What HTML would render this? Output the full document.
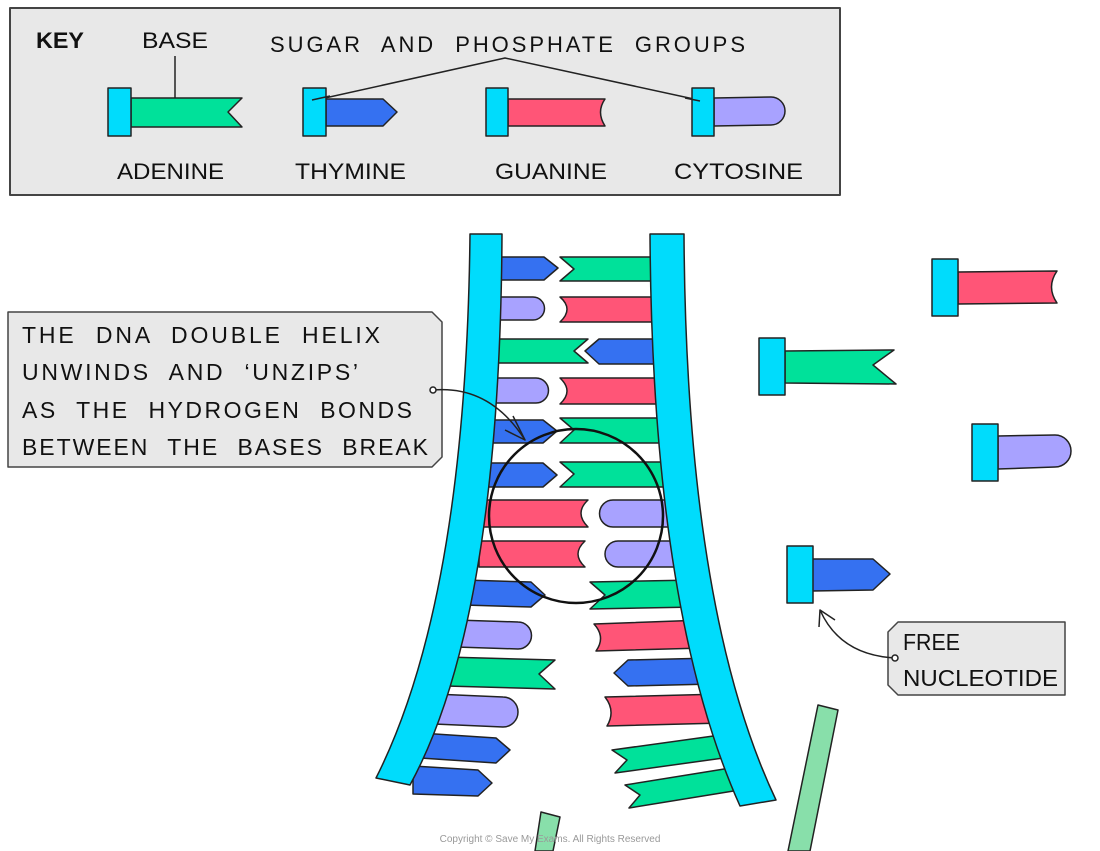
<!DOCTYPE html>
<html><head><meta charset="utf-8"><style>
html,body{margin:0;padding:0;background:#fff;}
svg{display:block;font-family:"Liberation Sans",sans-serif;}
</style></head><body>
<svg width="1100" height="851" viewBox="0 0 1100 851" xmlns="http://www.w3.org/2000/svg">
<g stroke="#222" stroke-width="1.5" stroke-linejoin="round">
<rect x="10" y="8" width="830" height="187" fill="#e8e8e8" stroke="#444" stroke-width="2"/>
<line x1="175" y1="56" x2="175" y2="98" fill="none"/>
<polyline points="316,100 505,58 703,101" fill="none"/>
<path d="M131 98 L242 98 L228 112 L242 127 L131 127Z" fill="#00e19a"/>
<rect x="108" y="88" width="23" height="48" fill="#00dcfc"/>
<path d="M326 99 L383 99 L397 112 L383 126 L326 126Z" fill="#3571f1"/>
<rect x="303" y="88" width="23" height="48" fill="#00dcfc"/>
<path d="M508 99 L605 99 Q596 112 605 126 L508 126Z" fill="#ff5577"/>
<rect x="486" y="88" width="22" height="48" fill="#00dcfc"/>
<path d="M714 98 L771 97 A14 14 0 0 1 771 125 L714 126Z" fill="#a8a2ff"/>
<rect x="692" y="88" width="22" height="48" fill="#00dcfc"/>
<polyline points="312,100 330,96" fill="none"/>
<polyline points="700,101 685,98" fill="none"/>
</g>
<g font-size="22" fill="#111">
<text x="36" y="48" font-weight="bold" textLength="48" lengthAdjust="spacingAndGlyphs">KEY</text>
<text x="142" y="48" textLength="66" lengthAdjust="spacingAndGlyphs">BASE</text>
<text x="270" y="52" textLength="475" lengthAdjust="spacing" word-spacing="10">SUGAR AND PHOSPHATE GROUPS</text>
<text x="117" y="179" textLength="107" lengthAdjust="spacingAndGlyphs">ADENINE</text>
<text x="295" y="179" textLength="111" lengthAdjust="spacingAndGlyphs">THYMINE</text>
<text x="495" y="179" textLength="112" lengthAdjust="spacingAndGlyphs">GUANINE</text>
<text x="674" y="179" textLength="129" lengthAdjust="spacingAndGlyphs">CYTOSINE</text>
</g>

<g stroke="#222" stroke-width="1.5" stroke-linejoin="round">
<path d="M490 257 L544 257 L558 268 L544 280 L490 280Z" fill="#3571f1"/>
<path d="M490 297 L533 297 A11.5 11.5 0 0 1 533 320 L490 320Z" fill="#a8a2ff"/>
<path d="M489 339 L588 339 L574 351 L588 363 L489 363Z" fill="#00e19a"/>
<path d="M488 378 L536 378 A12.5 12.5 0 0 1 536 403 L488 403Z" fill="#a8a2ff"/>
<path d="M487 420 L543 420 L557 431 L543 443 L487 443Z" fill="#3571f1"/>
<path d="M485 463 L543 463 L557 475 L543 487 L485 487Z" fill="#3571f1"/>
<path d="M483 500 L588 500 Q574 513 588 527 L483 527Z" fill="#ff5577"/>
<path d="M479 541 L585 541 Q571 554 585 567 L479 567Z" fill="#ff5577"/>
<path d="M464 580 L531 582 L545 595 L531 607 L464 605Z" fill="#3571f1"/>
<path d="M456 620 L518 622 A13.5 13.5 0 0 1 518 649 L456 647Z" fill="#a8a2ff"/>
<path d="M446 657 L555 660 L539 674 L555 689 L446 686Z" fill="#00e19a"/>
<path d="M434 694 L503 697 A15 15 0 0 1 503 727 L434 724Z" fill="#a8a2ff"/>
<path d="M420 733 L496 738 L510 750 L496 763 L420 758Z" fill="#3571f1"/>
<path d="M413 766 L478 770 L492 783 L478 796 L413 794Z" fill="#3571f1"/>

<path d="M663 257 L560 257 L574 269 L560 281 L663 281Z" fill="#00e19a"/>
<path d="M664 297 L560 297 Q574 309 560 322 L664 322Z" fill="#ff5577"/>
<path d="M665 339 L599 339 L585 351 L599 364 L665 364Z" fill="#3571f1"/>
<path d="M667 378 L560 378 Q574 391 560 404 L667 404Z" fill="#ff5577"/>
<path d="M669 418 L560 418 L574 430 L560 443 L669 443Z" fill="#00e19a"/>
<path d="M672 462 L560 462 L574 474 L560 487 L672 487Z" fill="#00e19a"/>
<path d="M675 500 L613 500 A13.5 13.5 0 0 0 613 527 L675 527Z" fill="#a8a2ff"/>
<path d="M680 541 L618 541 A13 13 0 0 0 618 567 L680 567Z" fill="#a8a2ff"/>
<path d="M696 580 L590 582 L605 595 L590 609 L696 607Z" fill="#00e19a"/>
<path d="M704 620 L594 624 Q606 637 596 651 L704 648Z" fill="#ff5577"/>
<path d="M713 658 L628 660 L614 673 L628 686 L713 684Z" fill="#3571f1"/>
<path d="M723 694 L605 697 Q616 711 607 726 L723 723Z" fill="#ff5577"/>
<path d="M735 733 L612 750 L627 760 L615 773 L738 756Z" fill="#00e19a"/>
<path d="M749 765 L625 785 L640 795 L629 808 L752 788Z" fill="#00e19a"/>

<path d="M470 234 L502 234 Q500 620 410 785 L376 778 Q466 600 470 234Z" fill="#00dcfc"/>
<path d="M650 234 L684 234 Q686 610 776 800 L740 806 Q652 610 650 234Z" fill="#00dcfc"/>

<circle cx="576" cy="516" r="87" fill="none" stroke="#111" stroke-width="2.5"/>

<path d="M958 272 L1057 271 Q1046 287 1057 303 L958 304Z" fill="#ff5577"/>
<rect x="932" y="259" width="26" height="57" fill="#00dcfc"/>
<path d="M785 351 L894 350 L873 365 L896 384 L785 383Z" fill="#00e19a"/>
<rect x="759" y="338" width="26" height="57" fill="#00dcfc"/>
<path d="M998 436 L1055 435 A16 16 0 0 1 1055 467 L998 469Z" fill="#a8a2ff"/>
<rect x="972" y="424" width="26" height="57" fill="#00dcfc"/>
<path d="M812 559 L873 559 L890 574 L873 590 L812 591Z" fill="#3571f1"/>
<rect x="787" y="546" width="26" height="57" fill="#00dcfc"/>

<path d="M818 705 L838 710 L810 851 L788 851Z" fill="#88dfaa"/>
<path d="M541 812 L560 817 L553 851 L535 851Z" fill="#88dfaa"/>

<path d="M8 312 L432 312 L442 322 L442 457 L432 467 L8 467Z" fill="#e8e8e8" stroke="#444"/>
<path d="M898 622 L1065 622 L1065 695 L898 695 L888 685 L888 632Z" fill="#e8e8e8" stroke="#444"/>
<path d="M433 390 Q490 385 525 440" fill="none"/>
<path d="M513 416 L525 440 L505 430" fill="none"/>
<circle cx="433" cy="390" r="3" fill="#fff"/>
<path d="M895 658 Q840 655 820 610" fill="none"/>
<path d="M819 627 L820 610 L835 620" fill="none"/>
<circle cx="895" cy="658" r="3" fill="#fff"/>
</g>
<g font-size="23" fill="#111">
<text x="22" y="343" textLength="358" lengthAdjust="spacing" word-spacing="10">THE DNA DOUBLE HELIX</text>
<text x="22" y="380" textLength="336" lengthAdjust="spacing" word-spacing="10">UNWINDS AND ‘UNZIPS’</text>
<text x="22" y="418" textLength="390" lengthAdjust="spacing" word-spacing="10">AS THE HYDROGEN BONDS</text>
<text x="22" y="455" textLength="406" lengthAdjust="spacing" word-spacing="10">BETWEEN THE BASES BREAK</text>
<text x="903" y="650" textLength="57" lengthAdjust="spacingAndGlyphs">FREE</text>
<text x="903" y="686" textLength="155" lengthAdjust="spacingAndGlyphs">NUCLEOTIDE</text>
</g>
<text x="550" y="842" font-size="10" fill="#999" text-anchor="middle">Copyright © Save My Exams. All Rights Reserved</text>
</svg>
</body></html>
